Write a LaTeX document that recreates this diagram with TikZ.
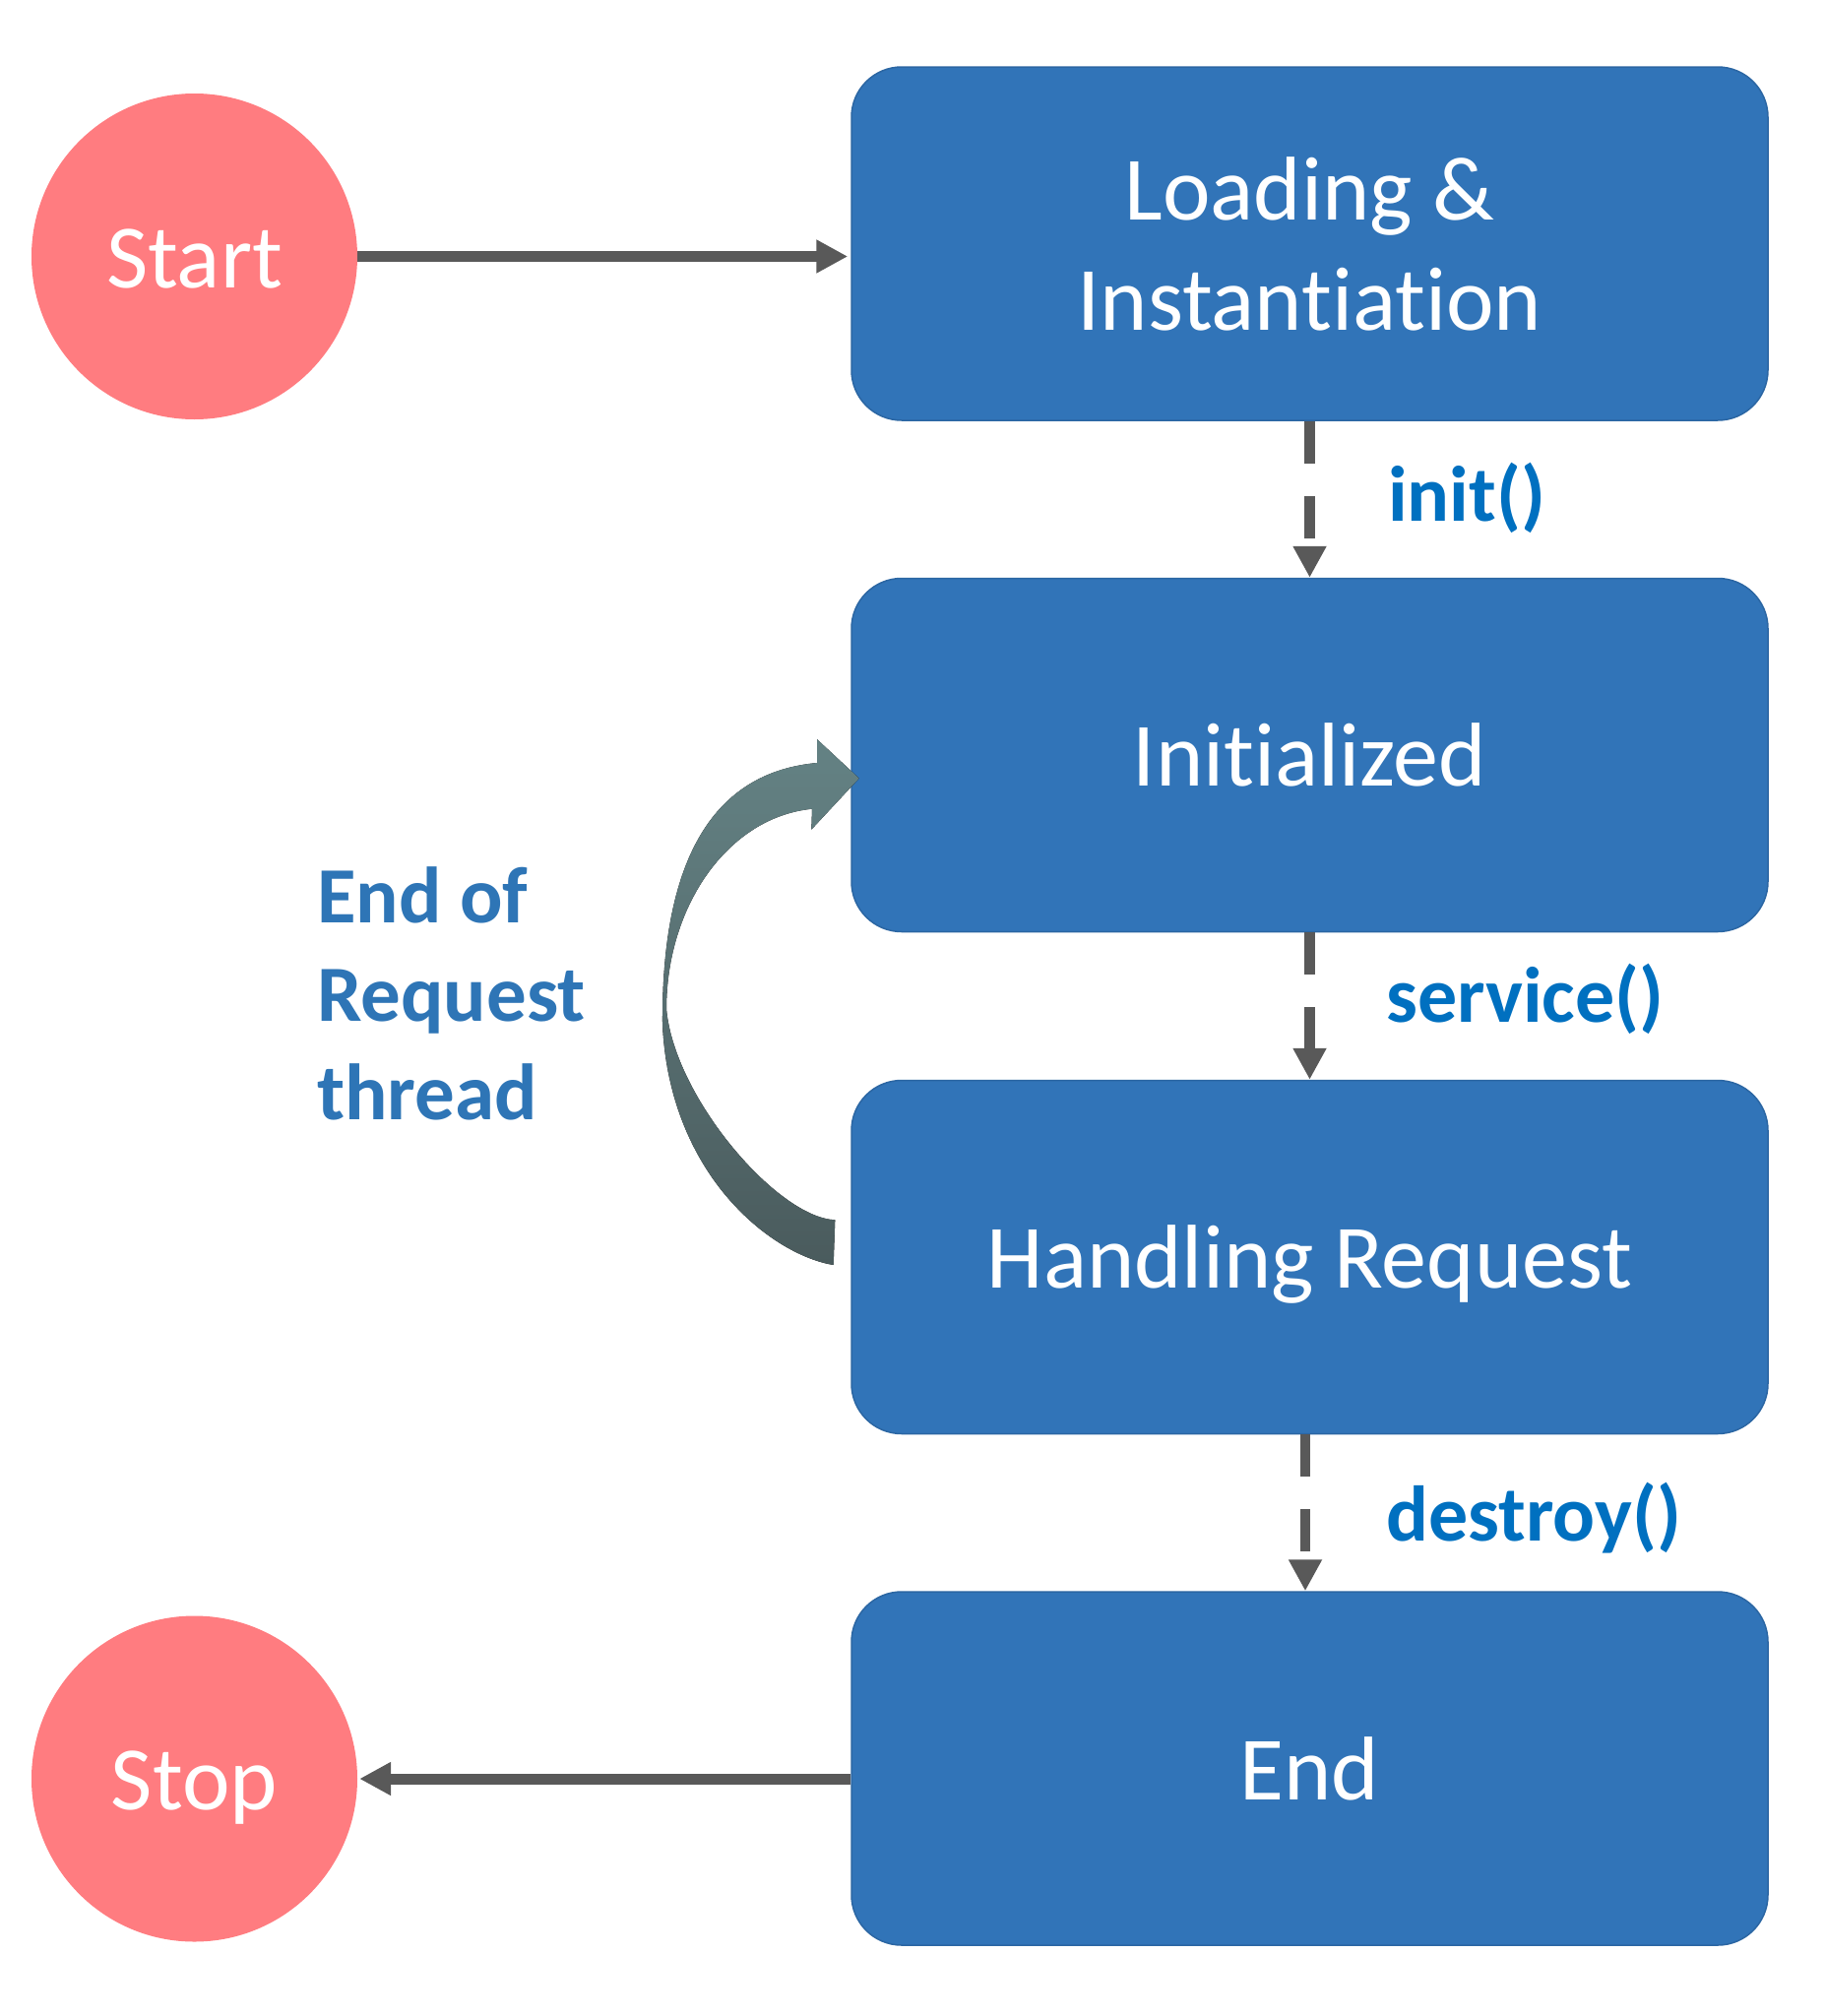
\documentclass[tikz,border=0pt]{standalone}
\usepackage{fontspec}
\setmainfont{Carlito}[Ligatures={NoCommon,NoContextual}]
\usetikzlibrary{arrows.meta}
\definecolor{boxblue}{HTML}{3174B8}
\definecolor{boxedge}{HTML}{2B66A3}
\definecolor{circred}{HTML}{FF7C80}
\definecolor{arrgray}{HTML}{595959}
\definecolor{lblblue}{HTML}{0070C0}
\definecolor{txtblue}{HTML}{2E75B6}
\definecolor{curvetop}{HTML}{648284}
\definecolor{curvebot}{HTML}{4A5B5D}
\begin{document}
\begin{tikzpicture}[x=1pt,y=-1pt,
  statebox/.style={draw=boxedge, line width=1.5pt, fill=boxblue, rounded corners=51pt,
    minimum width=931pt, minimum height=359pt, text=white,
    font=\fontsize{92}{112}\selectfont, inner sep=0pt, align=center},
  termcirc/.style={circle, fill=circred, minimum size=331pt, inner sep=0pt, text=white,
    font=\fontsize{92}{112}\selectfont},
  oneline/.style={text height=83pt, text depth=20pt},
  solidarrow/.style={draw=arrgray, line width=11pt, -{Triangle[length=32pt,width=32pt]}},
  dasharrow/.style={draw=arrgray, line width=10.5pt, dash pattern=on 43pt off 33pt,
    -{Triangle[length=32pt,width=32pt]}},
  methodlabel/.style={text=lblblue, font=\bfseries\fontsize{80}{98}\selectfont,
    inner sep=0pt, anchor=base west},
  loopfill/.style={top color=curvetop, bottom color=curvebot, draw=none}
]
\useasboundingbox (0,0) rectangle (1853,2048);

% terminal circles
\node[termcirc, oneline] (start) at (197.5,260.5) {Start};
\node[termcirc, oneline] (stop) at (197.5,1807) {Stop};

% state boxes
\node[statebox] (load) at (1330.5,247.5) {Loading \&\\Instantiation};
\node[statebox, oneline] (init) at (1330.5,767) {Initialized};
\node[statebox, oneline] (hand) at (1330.5,1277) {Handling Request};
\node[statebox, oneline] (endb) at (1330.5,1796.5) {End};

% solid connectors
\draw[solidarrow, shorten >=3pt] (start.east) -- (start.east -| load.west);
\draw[solidarrow, shorten >=2pt] (stop.east -| endb.west) -- (stop.east);

% dashed connectors
\draw[dasharrow] (load.south) -- (init.north);
\draw[dasharrow] (init.south) -- (hand.north);
\draw[dasharrow] ([xshift=-4.5pt]hand.south) -- ([xshift=-4.5pt]endb.north);

% method labels
\node[methodlabel] (linit) at (1410,529) {init()};
\node[methodlabel] (lserv) at (1408,1038) {service()};
\node[methodlabel] (ldest) at (1408,1565) {destroy()};

% loop label (base anchor = baseline of last line)
\node[text=txtblue, font=\bfseries\fontsize{81}{100}\selectfont, align=left,
  inner sep=0pt, anchor=base west] (eort) at (322,1137) {End of\\Request\\thread};

% curved loop arrow (block arrow shape)
\fill[loopfill] (846.7,1285)
  .. controls (785,1275) and (680,1195) .. (673,1040)
  .. controls (672,880) and (720,785) .. (830,775)
  -- (830,751) -- (872.7,790.7) -- (824.3,842.7) -- (825,821.7)
  .. controls (740,830) and (677,920) .. (677,1025)
  .. controls (685,1115) and (790,1237) .. (848.3,1239.3)
  -- cycle;
\end{tikzpicture}
\end{document}
